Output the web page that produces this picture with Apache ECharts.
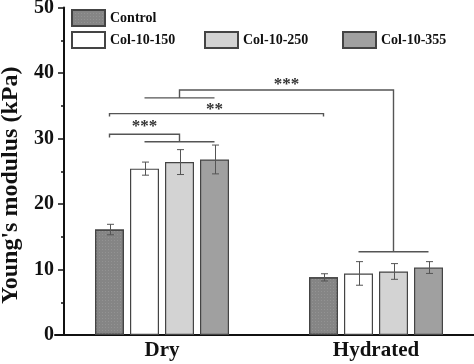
<!DOCTYPE html>
<html><head><meta charset="utf-8">
<script src="https://cdn.jsdelivr.net/npm/echarts@6/dist/echarts.min.js"></script>
<style>html,body{margin:0;padding:0;background:#fff}#c{width:474px;height:364px}</style>
</head><body><div id="c"></div>
<script>
// ---- data ----
const categories = ['Dry', 'Hydrated'];
const seriesNames = ['Control', 'Col-10-150', 'Col-10-250', 'Col-10-355'];
const controlMean = [16.1, 8.8];
const col150Mean  = [25.4, 9.4];
const col250Mean  = [26.4, 9.7];
const col355Mean  = [26.8, 10.3];
const controlErr  = [0.8, 0.55];
const col150Err   = [1.0, 1.8];
const col250Err   = [1.9, 1.2];
const col355Err   = [2.2, 0.9];
const yTickValues = [0, 10, 20, 30, 40, 50];
// significance brackets: polylines of [groupIndex, barSlot, value]
const brackets = [
  [[0,0,30.15],[0,0,30.65],[0,2,30.65],[0,2,29.5]],
  [[0,1,29.5],[0,3,29.5]],
  [[0,0,33.35],[0,0,33.8],[1,0,33.8],[1,0,33.35]],
  [[0,1,36.2],[0,3,36.2]],
  [[0,2,36.2],[0,2,37.4],[1,2,37.4],[1,2,12.7]],
  [[1,1,12.7],[1,3,12.7]]
];
const sigText  = ['***', '**', '***'];
const sigFrom  = [[0,1], [0,3], [0,2]];
const sigTo    = [[0,1], [0,3], [1,2]];
const sigValue = [31.9, 34.6, 38.4];

// ---- styles / layout ----
const FONT = '"Liberation Serif", "Times New Roman", serif';
const BAR_W = 29, BAR_GAP = 6;
const fills = ['#858585', '#ffffff', '#d3d3d3', '#a0a0a0'];
const means = [controlMean, col150Mean, col250Mean, col355Mean];
const errs = [controlErr, col150Err, col250Err, col355Err];
const GRID_L = 55, GRID_R = -9, AXIS_X = 64;
function slotOffset(s) { return (s - 1.5) * (BAR_W + BAR_GAP); }

const barSeries = seriesNames.map((name, k) => ({
  name, type: 'bar', data: means[k], barWidth: BAR_W, barGap: (BAR_GAP / BAR_W * 100) + '%',
  itemStyle: Object.assign({ color: fills[k], borderColor: '#444', borderWidth: 1.2 },
    k === 0 ? { decal: { symbol: 'rect', symbolSize: 1, dashArrayX: [[1, 2]], dashArrayY: [1, 2], color: 'rgba(255,255,255,0.12)' } } : {}),
  emphasis: { disabled: true }, z: 2
}));

const errData = [];
seriesNames.forEach((n, k) => categories.forEach((c, g) => {
  errData.push([g, means[k][g] - errs[k][g], means[k][g] + errs[k][g], k]);
}));

const errSeries = {
  type: 'custom', name: 'err', data: errData, z: 5, silent: true, clip: false,
  encode: { x: 0, y: [1, 2] },
  renderItem(params, api) {
    const g = api.value(0), k = api.value(3);
    const lo = api.coord([g, api.value(1)]), hi = api.coord([g, api.value(2)]);
    const x = Math.round(lo[0] + slotOffset(k)) + 0.5;
    const st = { stroke: '#555', lineWidth: 1 };
    return { type: 'group', children: [
      { type: 'line', shape: { x1: x, y1: lo[1], x2: x, y2: hi[1] }, style: st },
      { type: 'line', shape: { x1: x - 3.5, y1: lo[1], x2: x + 3.5, y2: lo[1] }, style: st },
      { type: 'line', shape: { x1: x - 3.5, y1: hi[1], x2: x + 3.5, y2: hi[1] }, style: st }
    ]};
  }
};

function pt(g, s, v, api) { const c = api.coord([g, v]); return [c[0] + slotOffset(s), c[1]]; }

const bracketSeries = {
  type: 'custom', name: 'brackets', data: brackets.map(() => [0, 0]), z: 6, silent: true, clip: false,
  renderItem(params, api) {
    const b = brackets[params.dataIndex];
    return { type: 'polyline', shape: { points: b.map(p => pt(p[0], p[1], p[2], api)) },
      style: { stroke: '#555', lineWidth: 1.4, fill: null } };
  }
};

const labelSeries = {
  type: 'custom', name: 'sig', data: sigText.map(() => [0, 0]), z: 7, silent: true, clip: false,
  renderItem(params, api) {
    const i = params.dataIndex;
    const a = pt(sigFrom[i][0], sigFrom[i][1], sigValue[i], api);
    const b = pt(sigTo[i][0], sigTo[i][1], sigValue[i], api);
    return { type: 'text', x: (a[0] + b[0]) / 2, y: a[1] + 1,
      style: { text: sigText[i], font: 'bold 17px ' + FONT, fill: '#333', align: 'center', verticalAlign: 'middle' } };
  }
};

const legendPos = [[71, 9], [71, 31], [204, 31], [342, 31]];
const legends = seriesNames.map((n, k) => ({
  data: [n], left: legendPos[k][0], top: legendPos[k][1], itemWidth: 33, itemHeight: 16,
  icon: 'rect', padding: 0, selectedMode: false,
  textStyle: { fontFamily: FONT, fontWeight: 'bold', fontSize: 14, color: '#111', padding: [0, 0, 0, 0] }
}));

const chart = echarts.init(document.getElementById('c'), null, { renderer: 'canvas' });
chart.setOption({
  animation: false,
  backgroundColor: '#fff',
  legend: legends,
  grid: { left: GRID_L, right: GRID_R, top: 7.5, bottom: 29, containLabel: false, outerBoundsMode: 'none' },
  xAxis: {
    type: 'category', data: categories,
    axisLine: { lineStyle: { color: '#111', width: 2 } },
    axisTick: { show: false },
    axisLabel: { fontFamily: FONT, fontWeight: 'bold', fontSize: 21, color: '#111', margin: 5 }
  },
  yAxis: {
    type: 'value', min: yTickValues[0], max: yTickValues[yTickValues.length - 1],
    interval: yTickValues[1] - yTickValues[0], offset: GRID_L - AXIS_X,
    name: "Young's modulus (kPa)", nameLocation: 'middle', nameRotate: 90, nameGap: 39,
    nameTextStyle: { fontFamily: FONT, fontWeight: 'bold', fontSize: 24, color: '#111', padding: [0, 28, 0, 0] },
    axisLine: { show: true, lineStyle: { color: '#111', width: 2 } },
    axisTick: { show: true, length: 6, lineStyle: { color: '#111', width: 1.5 } },
    minorTick: { show: true, splitNumber: 2, length: 3, lineStyle: { color: '#111', width: 1.5 } },
    splitLine: { show: false },
    axisLabel: { fontFamily: FONT, fontWeight: 'bold', fontSize: 20, color: '#111', margin: 10 }
  },
  series: barSeries.concat([errSeries, bracketSeries, labelSeries])
});
</script></body></html>
